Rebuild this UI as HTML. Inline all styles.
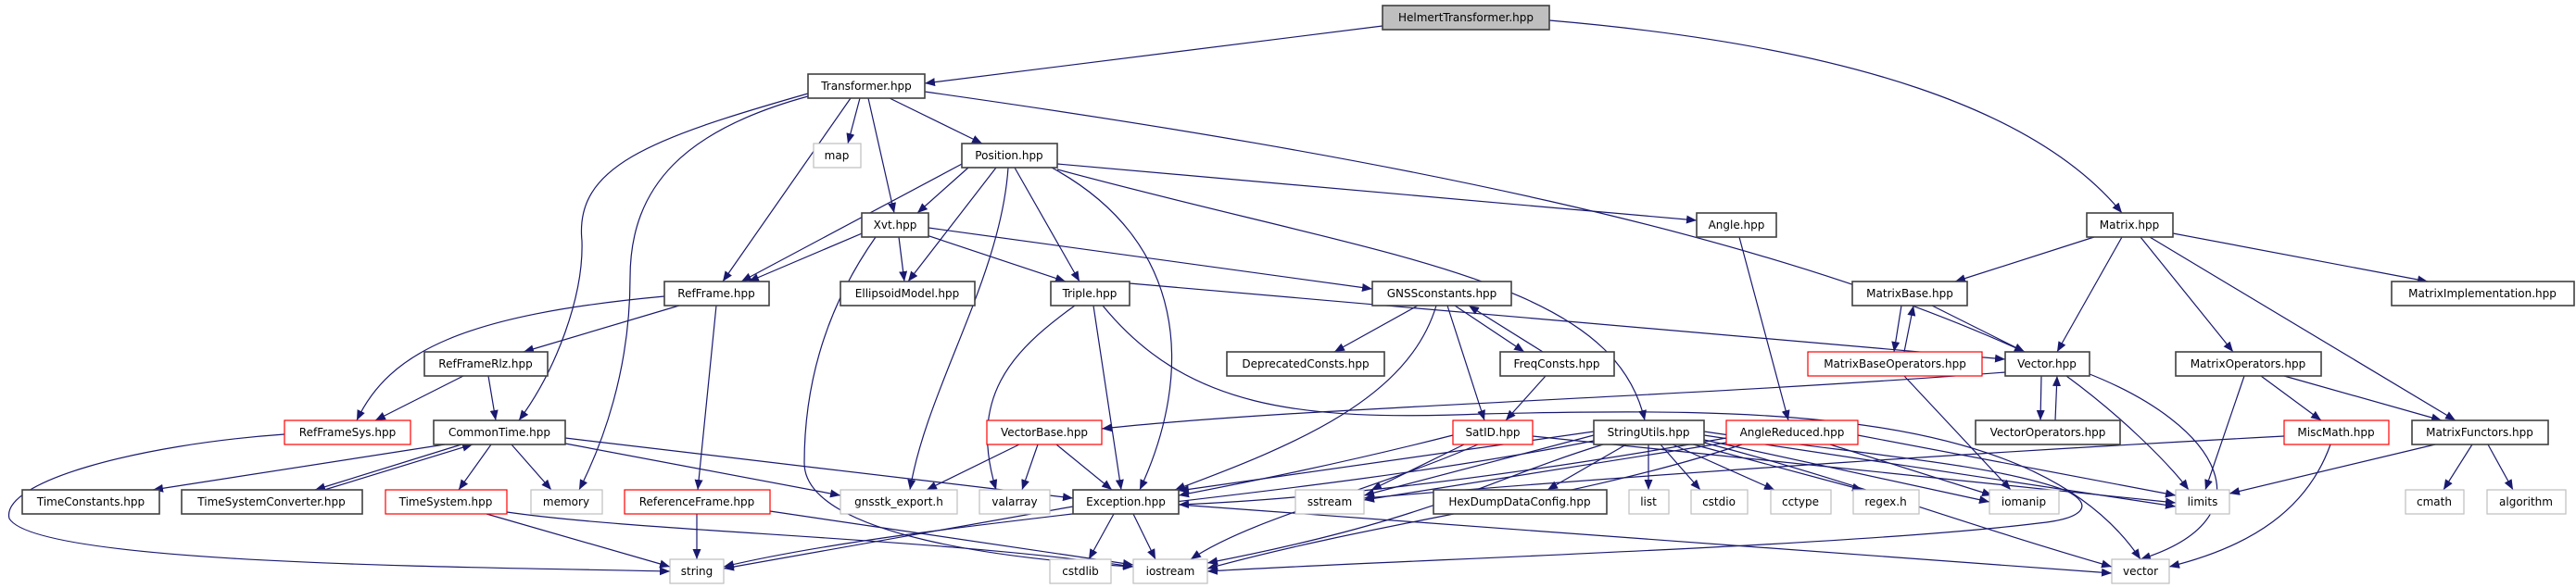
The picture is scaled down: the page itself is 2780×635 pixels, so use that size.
<!DOCTYPE html>
<html><head><meta charset="utf-8"><style>
html,body{margin:0;padding:0;background:#fff;}
svg{display:block;}
text{font-family:"DejaVu Sans","Liberation Sans",sans-serif;font-size:12px;fill:#000;}
.n{fill:#fff;stroke:#404040;stroke-width:1.6;}
.r{fill:#fff;stroke:#ff0000;stroke-width:1.2;}
.g{fill:#fff;stroke:#bfbfbf;stroke-width:1.2;}
.h{fill:#bfbfbf;stroke:#404040;stroke-width:1.6;}
.e{fill:none;stroke:#191970;stroke-width:1.2;marker-end:url(#a);}
</style></head><body>
<svg width="2780" height="635" viewBox="0 0 2780 635" xmlns="http://www.w3.org/2000/svg">
<defs><marker id="a" markerUnits="userSpaceOnUse" markerWidth="12" markerHeight="10" refX="11" refY="4.5" orient="auto"><path d="M0,0 L11,4.5 L0,9 z" fill="#191970"/></marker></defs>
<g>
<line class="e" x1="1492" y1="28" x2="998" y2="90"/>
<path class="e" d="M1672,22 C2000,50 2200,120 2290,230"/>
<line class="e" x1="928" y1="106" x2="915" y2="155"/>
<line class="e" x1="937" y1="106" x2="965" y2="230"/>
<line class="e" x1="918" y1="106" x2="780" y2="304"/>
<line class="e" x1="960" y1="106" x2="1060" y2="155"/>
<path class="e" d="M998,99 C1500,170 1900,250 2185,380"/>
<path class="e" d="M872,101 C700,150 620,180 628,260 C630,320 600,400 560,454"/>
<path class="e" d="M872,104 C740,140 680,200 680,300 C680,400 650,480 625,529"/>
<line class="e" x1="1045" y1="181" x2="990" y2="230"/>
<line class="e" x1="1040" y1="176" x2="800" y2="304"/>
<line class="e" x1="1075" y1="181" x2="980" y2="304"/>
<line class="e" x1="1095" y1="181" x2="1165" y2="304"/>
<path class="e" d="M1088,181 C1080,300 1000,420 982,529"/>
<path class="e" d="M1135,181 C1280,260 1290,400 1230,529"/>
<line class="e" x1="1141" y1="177" x2="1831" y2="238"/>
<path class="e" d="M1141,183 C1500,280 1740,300 1775,454"/>
<line class="e" x1="935" y1="250" x2="808" y2="304"/>
<line class="e" x1="970" y1="256" x2="976" y2="304"/>
<line class="e" x1="1000" y1="254" x2="1150" y2="304"/>
<line class="e" x1="1002" y1="246" x2="1481" y2="312"/>
<path class="e" d="M945,256 C900,320 868,400 868,500 C868,580 1100,605 1223,612"/>
<line class="e" x1="1877" y1="256" x2="1930" y2="454"/>
<line class="e" x1="2260" y1="256" x2="2110" y2="304"/>
<line class="e" x1="2290" y1="256" x2="2220" y2="380"/>
<line class="e" x1="2310" y1="256" x2="2410" y2="380"/>
<line class="e" x1="2320" y1="256" x2="2650" y2="454"/>
<line class="e" x1="2345" y1="252" x2="2620" y2="304"/>
<line class="e" x1="733" y1="330" x2="565" y2="380"/>
<path class="e" d="M717,320 C500,340 420,380 385,454"/>
<line class="e" x1="773" y1="330" x2="753" y2="529"/>
<line class="e" x1="500" y1="406" x2="405" y2="454"/>
<line class="e" x1="527" y1="406" x2="535" y2="454"/>
<line class="e" x1="1219" y1="306" x2="2164" y2="388"/>
<path class="e" d="M1160,330 C1090,380 1045,430 1075,529"/>
<line class="e" x1="1180" y1="330" x2="1210" y2="529"/>
<path class="e" d="M1190,330 C1280,440 1400,455 1600,447 C1900,440 2200,440 2310,604"/>
<line class="e" x1="1530" y1="330" x2="1440" y2="380"/>
<line class="e" x1="1570" y1="330" x2="1645" y2="380"/>
<line class="e" x1="1665" y1="380" x2="1585" y2="330"/>
<line class="e" x1="1562" y1="330" x2="1602" y2="454"/>
<path class="e" d="M1550,330 C1520,430 1400,480 1268,529"/>
<line class="e" x1="1668" y1="406" x2="1625" y2="454"/>
<line class="e" x1="2052" y1="330" x2="2044" y2="380"/>
<line class="e" x1="2055" y1="380" x2="2065" y2="330"/>
<line class="e" x1="2085" y1="330" x2="2185" y2="380"/>
<line class="e" x1="2055" y1="406" x2="2170" y2="529"/>
<line class="e" x1="2422" y1="406" x2="2380" y2="529"/>
<line class="e" x1="2440" y1="406" x2="2505" y2="454"/>
<line class="e" x1="2465" y1="406" x2="2635" y2="454"/>
<path class="e" d="M2164,402 C1800,430 1400,440 1189,463"/>
<line class="e" x1="2203" y1="406" x2="2202" y2="454"/>
<line class="e" x1="2218" y1="454" x2="2220" y2="406"/>
<path class="e" d="M2230,406 C2290,450 2340,500 2362,529"/>
<path class="e" d="M2250,402 C2400,460 2450,560 2310,604"/>
<path class="e" d="M307,469 C150,480 0,520 10,560 C40,610 500,612 723,617"/>
<line class="e" x1="480" y1="480" x2="165" y2="529"/>
<line class="e" x1="498" y1="480" x2="340" y2="529"/>
<line class="e" x1="350" y1="529" x2="510" y2="480"/>
<line class="e" x1="530" y1="480" x2="495" y2="529"/>
<line class="e" x1="552" y1="480" x2="595" y2="529"/>
<line class="e" x1="610" y1="479" x2="907" y2="535"/>
<line class="e" x1="610" y1="473" x2="1158" y2="538"/>
<line class="e" x1="525" y1="555" x2="723" y2="612"/>
<path class="e" d="M547,553 C700,575 1000,580 1223,612"/>
<line class="e" x1="752" y1="555" x2="752" y2="604"/>
<line class="e" x1="831" y1="552" x2="1223" y2="610"/>
<line class="e" x1="1100" y1="480" x2="1000" y2="529"/>
<line class="e" x1="1120" y1="480" x2="1103" y2="529"/>
<line class="e" x1="1140" y1="480" x2="1200" y2="529"/>
<path class="e" d="M1568,470 C1450,500 1350,520 1272,535"/>
<line class="e" x1="1580" y1="480" x2="1480" y2="529"/>
<path class="e" d="M1595,480 C1480,530 1350,560 1285,604"/>
<line class="e" x1="1654" y1="471" x2="2348" y2="543"/>
<line class="e" x1="1720" y1="466" x2="1272" y2="530"/>
<line class="e" x1="1720" y1="470" x2="1472" y2="535"/>
<line class="e" x1="1755" y1="480" x2="1670" y2="529"/>
<line class="e" x1="1779" y1="480" x2="1779" y2="529"/>
<line class="e" x1="1792" y1="480" x2="1835" y2="529"/>
<line class="e" x1="1805" y1="480" x2="1915" y2="529"/>
<line class="e" x1="1820" y1="478" x2="2010" y2="529"/>
<line class="e" x1="1839" y1="475" x2="2147" y2="542"/>
<line class="e" x1="1839" y1="470" x2="2348" y2="547"/>
<path class="e" d="M1839,478 C2000,520 2100,560 2279,612"/>
<path class="e" d="M1730,480 C1600,520 1550,560 1303,608"/>
<path class="e" d="M1839,466 C2000,490 2150,500 2230,530 C2260,545 2250,560 2200,565 C2000,590 1500,605 1303,617"/>
<path class="e" d="M1720,476 C1400,540 1000,560 781,612"/>
<path class="e" d="M1863,473 C1600,520 1400,540 1272,545"/>
<line class="e" x1="1863" y1="478" x2="1472" y2="540"/>
<line class="e" x1="1975" y1="480" x2="2150" y2="535"/>
<line class="e" x1="2005" y1="470" x2="2348" y2="535"/>
<path class="e" d="M1880,480 C1700,540 1500,560 1303,614"/>
<line class="e" x1="1158" y1="547" x2="781" y2="614"/>
<line class="e" x1="1202" y1="555" x2="1175" y2="604"/>
<line class="e" x1="1223" y1="555" x2="1247" y2="604"/>
<line class="e" x1="1272" y1="545" x2="2279" y2="619"/>
<path class="e" d="M2465,471 C2200,485 1800,510 1472,538"/>
<path class="e" d="M2515,480 C2490,550 2430,590 2341,612"/>
<line class="e" x1="2628" y1="480" x2="2406" y2="533"/>
<line class="e" x1="2668" y1="480" x2="2637" y2="529"/>
<line class="e" x1="2685" y1="480" x2="2712" y2="529"/>
</g>
<g text-anchor="middle">
<rect class="h" x="1492" y="6" width="180" height="26"/><text x="1582" y="23">HelmertTransformer.hpp</text>
<rect class="n" x="872" y="80" width="126" height="26"/><text x="935" y="97">Transformer.hpp</text>
<rect class="g" x="878" y="155" width="51" height="26"/><text x="903" y="172">map</text>
<rect class="n" x="1038" y="155" width="103" height="26"/><text x="1089" y="172">Position.hpp</text>
<rect class="n" x="930" y="230" width="72" height="26"/><text x="966" y="247">Xvt.hpp</text>
<rect class="n" x="1831" y="230" width="86" height="26"/><text x="1874" y="247">Angle.hpp</text>
<rect class="n" x="2252" y="230" width="93" height="26"/><text x="2298" y="247">Matrix.hpp</text>
<rect class="n" x="717" y="304" width="113" height="26"/><text x="773" y="321">RefFrame.hpp</text>
<rect class="n" x="907" y="304" width="145" height="26"/><text x="979" y="321">EllipsoidModel.hpp</text>
<rect class="n" x="1134" y="304" width="85" height="26"/><text x="1176" y="321">Triple.hpp</text>
<rect class="n" x="1481" y="304" width="150" height="26"/><text x="1556" y="321">GNSSconstants.hpp</text>
<rect class="n" x="1999" y="304" width="124" height="26"/><text x="2061" y="321">MatrixBase.hpp</text>
<rect class="n" x="2581" y="304" width="197" height="26"/><text x="2679" y="321">MatrixImplementation.hpp</text>
<rect class="n" x="458" y="380" width="133" height="26"/><text x="524" y="397">RefFrameRlz.hpp</text>
<rect class="n" x="1324" y="380" width="170" height="26"/><text x="1409" y="397">DeprecatedConsts.hpp</text>
<rect class="n" x="1619" y="380" width="123" height="26"/><text x="1680" y="397">FreqConsts.hpp</text>
<rect class="r" x="1951" y="380" width="188" height="26"/><text x="2045" y="397">MatrixBaseOperators.hpp</text>
<rect class="n" x="2164" y="380" width="91" height="26"/><text x="2209" y="397">Vector.hpp</text>
<rect class="n" x="2348" y="380" width="157" height="26"/><text x="2426" y="397">MatrixOperators.hpp</text>
<rect class="r" x="307" y="454" width="136" height="26"/><text x="375" y="471">RefFrameSys.hpp</text>
<rect class="n" x="468" y="454" width="142" height="26"/><text x="539" y="471">CommonTime.hpp</text>
<rect class="r" x="1065" y="454" width="124" height="26"/><text x="1127" y="471">VectorBase.hpp</text>
<rect class="r" x="1568" y="454" width="86" height="26"/><text x="1611" y="471">SatID.hpp</text>
<rect class="n" x="1720" y="454" width="119" height="26"/><text x="1779" y="471">StringUtils.hpp</text>
<rect class="r" x="1863" y="454" width="142" height="26"/><text x="1934" y="471">AngleReduced.hpp</text>
<rect class="n" x="2132" y="454" width="156" height="26"/><text x="2210" y="471">VectorOperators.hpp</text>
<rect class="r" x="2465" y="454" width="113" height="26"/><text x="2521" y="471">MiscMath.hpp</text>
<rect class="n" x="2603" y="454" width="147" height="26"/><text x="2676" y="471">MatrixFunctors.hpp</text>
<rect class="n" x="24" y="529" width="148" height="26"/><text x="98" y="546">TimeConstants.hpp</text>
<rect class="n" x="196" y="529" width="195" height="26"/><text x="293" y="546">TimeSystemConverter.hpp</text>
<rect class="r" x="416" y="529" width="131" height="26"/><text x="481" y="546">TimeSystem.hpp</text>
<rect class="g" x="573" y="529" width="77" height="26"/><text x="611" y="546">memory</text>
<rect class="r" x="674" y="529" width="157" height="26"/><text x="752" y="546">ReferenceFrame.hpp</text>
<rect class="g" x="907" y="529" width="126" height="26"/><text x="970" y="546">gnsstk_export.h</text>
<rect class="g" x="1057" y="529" width="76" height="26"/><text x="1095" y="546">valarray</text>
<rect class="n" x="1158" y="529" width="114" height="26"/><text x="1215" y="546">Exception.hpp</text>
<rect class="g" x="1398" y="529" width="74" height="26"/><text x="1435" y="546">sstream</text>
<rect class="n" x="1547" y="529" width="187" height="26"/><text x="1640" y="546">HexDumpDataConfig.hpp</text>
<rect class="g" x="1758" y="529" width="43" height="26"/><text x="1779" y="546">list</text>
<rect class="g" x="1825" y="529" width="61" height="26"/><text x="1855" y="546">cstdio</text>
<rect class="g" x="1911" y="529" width="65" height="26"/><text x="1943" y="546">cctype</text>
<rect class="g" x="2000" y="529" width="71" height="26"/><text x="2035" y="546">regex.h</text>
<rect class="g" x="2147" y="529" width="75" height="26"/><text x="2184" y="546">iomanip</text>
<rect class="g" x="2348" y="529" width="58" height="26"/><text x="2377" y="546">limits</text>
<rect class="g" x="2596" y="529" width="63" height="26"/><text x="2627" y="546">cmath</text>
<rect class="g" x="2684" y="529" width="85" height="26"/><text x="2726" y="546">algorithm</text>
<rect class="g" x="723" y="604" width="58" height="26"/><text x="752" y="621">string</text>
<rect class="g" x="1133" y="604" width="66" height="26"/><text x="1166" y="621">cstdlib</text>
<rect class="g" x="1223" y="604" width="80" height="26"/><text x="1263" y="621">iostream</text>
<rect class="g" x="2279" y="604" width="62" height="26"/><text x="2310" y="621">vector</text>
</g>
</svg>
</body></html>
